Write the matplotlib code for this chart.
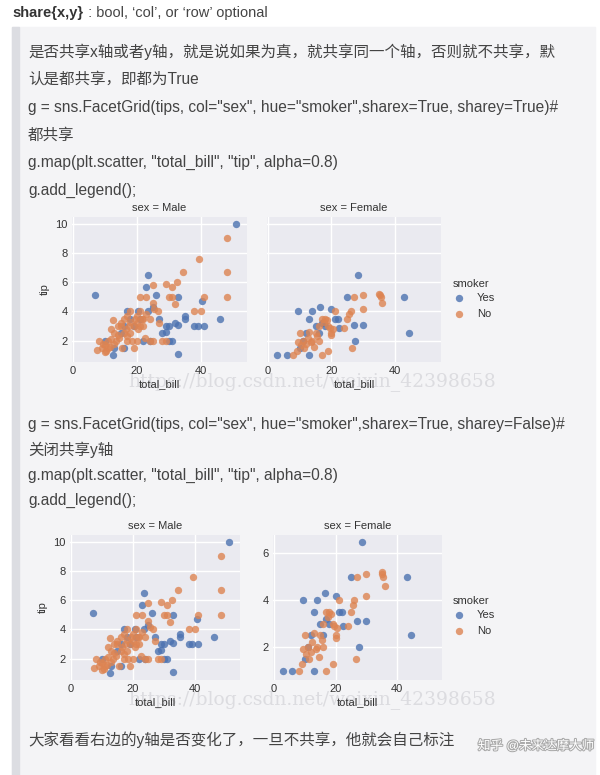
import matplotlib.pyplot as plt
import matplotlib.patheffects as pe
from matplotlib.patches import Rectangle

plt.rcParams['font.family'] = ['Liberation Sans', 'Noto Sans CJK SC', 'DejaVu Sans']

# data (total_bill, tip)
male_yes_x = [7, 51, 23.5, 23, 26, 33, 40.5, 17, 20.5, 23.5, 16, 25, 27, 29, 30, 32, 33, 35, 35, 38, 39, 41, 46, 29, 30, 31, 22, 24, 13, 12.5, 33, 16, 10, 15, 18, 19, 21, 28]
male_yes_y = [5.1, 10, 6.5, 5.7, 5.1, 5, 4.7, 4, 4, 4, 3, 4.3, 3.5, 3, 3, 3.2, 3.1, 3.5, 3.7, 3, 3, 3, 3.5, 2.6, 2, 2, 2, 2, 1.5, 1, 1.1, 1.5, 2, 2.5, 3.5, 3, 3.5, 2.5]
male_no_x = [48.3, 39.5, 48.3, 48.3, 34.5, 29, 31, 32.5, 30, 31, 32, 41, 40, 38, 25, 21, 23, 25, 25.5, 26.5, 27, 24, 22, 20, 19, 18, 17, 16, 15, 14, 13, 12, 11, 10, 9, 8, 7.5, 9.5, 10.5, 11.5, 12.5, 13.5, 14.5, 15.5, 16, 17, 18, 19, 20, 21, 22, 22.5, 24, 25, 19.5, 20.5, 21.5, 23, 17.5, 16.5, 14, 13, 12, 11, 10, 18, 20, 21, 28, 29, 18.5, 17, 15]
male_no_y = [9, 7.6, 6.7, 5, 6.7, 5.9, 5.7, 6, 5, 5, 4.5, 5, 4, 4, 5.8, 5, 5, 4.6, 4.2, 4, 3.2, 3.5, 3.5, 3.2, 3, 4, 3.7, 3.5, 3, 3, 2.5, 2.8, 2, 1.7, 1.5, 2, 1.4, 1.8, 1.3, 1.6, 3.4, 2, 2.2, 1.5, 2.5, 2, 2.5, 1.5, 2, 3, 3, 2.2, 2, 2, 3.5, 2.8, 3.5, 3.8, 3, 2.8, 2.4, 1.8, 2.1, 1.5, 1.2, 3.3, 3.7, 4, 2, 2, 2, 2.3, 3.2]
female_yes_x = [3, 6, 28.5, 43, 44.5, 25, 9.5, 13, 14, 16.5, 20, 21, 22, 22.5, 27, 30, 27.5, 13, 16, 15, 11, 12, 10, 18, 17]
female_yes_y = [1, 1, 6.5, 5, 2.5, 5, 4, 3.5, 4, 4.3, 4.2, 3.5, 3.5, 2.9, 3.1, 3.1, 2, 1, 2.5, 3, 2, 2.5, 1.5, 3, 3.2]
female_no_x = [8, 17, 19, 10, 11, 12, 13, 14, 15, 16, 16, 17, 18, 19, 20, 21, 20.5, 24, 25, 25.5, 26, 27, 30, 30, 26.5, 35, 35.5, 36, 35.2, 9, 10.5, 11.5, 12.5, 13.5, 15.5, 17.5, 18.5, 19.5, 20, 14.5, 9.5]
female_no_y = [1, 1, 1.3, 2.5, 2, 1.8, 2.6, 2, 2.5, 2, 3, 3.5, 3.5, 3, 2.5, 4, 2.8, 2.9, 3.5, 3.8, 4, 5, 5.1, 4.2, 1.5, 5.2, 5, 4.6, 5.1, 1.3, 1.7, 1.5, 2.2, 1.9, 2.3, 3.3, 3.4, 2.9, 2.4, 1.6, 1.9]

text_lines_1 = ['是否共享x轴或者y轴，就是说如果为真，就共享同一个轴，否则就不共享，默',
                '认是都共享，即都为True',
                'g = sns.FacetGrid(tips, col="sex", hue="smoker",sharex=True, sharey=True)#',
                '都共享',
                'g.map(plt.scatter, "total_bill", "tip", alpha=0.8)',
                'g.add_legend();']
text_lines_2 = ['g = sns.FacetGrid(tips, col="sex", hue="smoker",sharex=True, sharey=False)#',
                '关闭共享y轴',
                'g.map(plt.scatter, "total_bill", "tip", alpha=0.8)',
                'g.add_legend();']

W, H = 600, 775
fig = plt.figure(figsize=(6, 7.75), dpi=100)
bg = fig.add_axes([0, 0, 1, 1])
bg.set_xlim(0, W)
bg.set_ylim(H, 0)
bg.axis('off')
bg.add_patch(Rectangle((12, 27), 583, 760, color='#f4f4f6'))
bg.add_patch(Rectangle((12, 27), 7, 760, color='#dcdde2'))

bg.text(12, 13, 'share{x,y}', fontsize=10.5, fontweight='bold', color='#333', va='center')
bg.text(84, 13, ' : bool, ‘col’, or ‘row’ optional', fontsize=10.5, color='#444', va='center')
for i, s in enumerate(text_lines_1):
    bg.text(28, 52 + 27.6 * i, s, fontsize=11.2, color='#444', va='center')
for i, s in enumerate(text_lines_2):
    bg.text(28, 424 + 25.5 * i, s, fontsize=11.2, color='#444', va='center')
bg.text(28, 740, '大家看看右边的y轴是否变化了，一旦不共享，他就会自己标注', fontsize=11.2, color='#444', va='center')
for y in [382, 700]:
    bg.text(128, y, 'https://blog.csdn.net/weixin_42398658', fontsize=13.5, family='DejaVu Serif',
            color='#dcdce0', va='center', zorder=1.5)
bg.text(478, 746, '知乎 @未来达摩大师', fontsize=9, color='white', va='center', zorder=5,
        path_effects=[pe.withStroke(linewidth=1.5, foreground='#aaa')])


def add_ax(x0, y0, x1, y1):
    ax = fig.add_axes([x0 / W, 1 - y1 / H, (x1 - x0) / W, (y1 - y0) / H])
    ax.set_facecolor('#eaeaf0')
    for sp in ax.spines.values():
        sp.set_visible(False)
    ax.grid(color='white', linewidth=1)
    ax.set_axisbelow(True)
    ax.tick_params(length=0, labelsize=8, colors='#333', pad=3)
    return ax


def draw_grid(top, bottom, xs, sharey, ly):
    axes = []
    for (x0, x1), name, (yx, yy), (nx, ny) in zip(
            xs, ['Male', 'Female'],
            [(male_yes_x, male_yes_y), (female_yes_x, female_yes_y)],
            [(male_no_x, male_no_y), (female_no_x, female_no_y)]):
        ax = add_ax(x0, top, x1, bottom)
        ax.scatter(yx, yy, s=28, color='#4c72b0', alpha=0.8, linewidths=0)
        ax.scatter(nx, ny, s=28, color='#dd8452', alpha=0.8, linewidths=0)
        ax.set_xlim(-0.3, 54.5)
        ax.set_xticks([0, 20, 40])
        ax.set_title('sex = ' + name, fontsize=8, color='#333', pad=4)
        ax.set_xlabel('total_bill', fontsize=8, color='#333', labelpad=2)
        axes.append(ax)
    axes[0].set_ylim(0.55, 10.45)
    axes[0].set_yticks([2, 4, 6, 8, 10])
    axes[0].set_ylabel('tip', fontsize=8, color='#333')
    if sharey:
        axes[1].set_ylim(0.55, 10.45)
        axes[1].set_yticks([2, 4, 6, 8, 10])
        axes[1].tick_params(labelleft=False)
    else:
        axes[1].set_ylim(0.6, 6.78)
        axes[1].set_yticks([2, 4, 6])
    bg.text(453, ly, 'smoker', fontsize=8, color='#333', va='center')
    bg.scatter([459], [ly + 14], s=28, color='#4c72b0', alpha=0.8, linewidths=0)
    bg.scatter([459], [ly + 30], s=28, color='#dd8452', alpha=0.8, linewidths=0)
    bg.text(477, ly + 14, 'Yes', fontsize=8, color='#333', va='center')
    bg.text(477, ly + 30, 'No', fontsize=8, color='#333', va='center')


draw_grid(217, 362, [(72, 247), (267, 441)], True, 284)
draw_grid(535, 680, [(70, 240), (273, 442)], False, 601)

fig.savefig('out.png', dpi=100)
